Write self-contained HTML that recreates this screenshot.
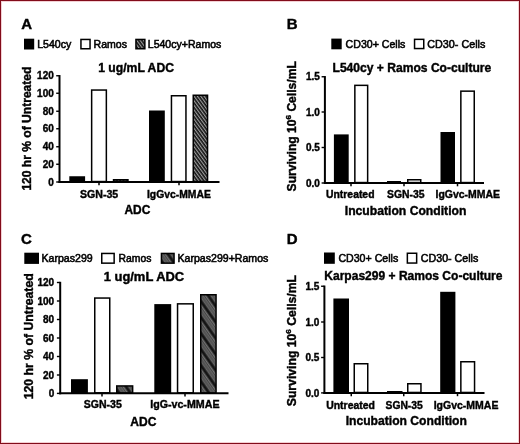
<!DOCTYPE html>
<html><head><meta charset="utf-8"><title>Figure</title>
<style>
html,body{margin:0;padding:0;background:#fff;}
body{width:520px;height:444px;overflow:hidden;position:relative;}
svg{position:absolute;left:0;top:0;display:block;}
svg text{font-family:"Liberation Sans",Arial,sans-serif;fill:#000;stroke:#000;stroke-width:0.4px;}
svg text.r{stroke-width:0.55px;}
svg g.soft{filter:blur(0.3px);}
.frame{position:absolute;left:0;top:0;width:518px;height:442px;border:1px solid #820c1a;box-shadow:inset 0 0 0 1px rgba(200,40,60,0.22);}
</style></head><body>
<svg width="520" height="444" viewBox="0 0 520 444">
<defs>
<pattern id="hA" width="2.7" height="2.7" patternUnits="userSpaceOnUse" patternTransform="rotate(-36)">
<rect width="2.7" height="2.7" fill="#121212"/><rect width="1.15" height="2.7" fill="#9c9c9c"/>
</pattern>
<pattern id="hC" width="9.2" height="9.2" patternUnits="userSpaceOnUse" patternTransform="rotate(-35)">
<rect width="9.2" height="9.2" fill="#404040"/><rect width="2.2" height="9.2" fill="#141414"/>
<rect x="3.1" width="0.9" height="9.2" fill="#787878"/><rect x="5.2" width="0.9" height="9.2" fill="#787878"/><rect x="7.3" width="0.9" height="9.2" fill="#787878"/>
</pattern>
</defs>
<rect width="520" height="444" fill="#fff"/>
<g class="soft">
<text x="21.30" y="29.10" font-size="15.00" font-weight="700">A</text>
<rect x="24.00" y="38.70" width="10.20" height="10.80" fill="#000"/>
<text x="37.20" y="47.80" font-size="10.60" class="r" textLength="34.10" lengthAdjust="spacingAndGlyphs">L540cy</text>
<rect x="80.95" y="39.45" width="9.10" height="9.30" fill="#fff" stroke="#000" stroke-width="1.5"/>
<text x="93.60" y="47.80" font-size="10.60" class="r" textLength="33.40" lengthAdjust="spacingAndGlyphs">Ramos</text>
<text x="147.80" y="47.80" font-size="10.60" class="r" textLength="73.50" lengthAdjust="spacingAndGlyphs">L540cy+Ramos</text>
<text x="98.20" y="72.40" font-size="12.00" font-weight="700" textLength="75.80" lengthAdjust="spacingAndGlyphs">1 ug/mL ADC</text>
<rect x="69.30" y="176.25" width="15.80" height="6.05" fill="#000"/>
<rect x="91.65" y="90.05" width="14.70" height="91.50" fill="#fff" stroke="#000" stroke-width="1.5"/>
<rect x="149.00" y="110.50" width="15.80" height="71.80" fill="#000"/>
<rect x="171.45" y="95.75" width="14.50" height="85.80" fill="#fff" stroke="#000" stroke-width="1.5"/>
<line x1="59.50" y1="75.05" x2="59.50" y2="183.00" stroke="#000" stroke-width="2.00"/>
<line x1="58.50" y1="182.00" x2="219.50" y2="182.00" stroke="#000" stroke-width="2.00"/>
<line x1="56.20" y1="75.75" x2="59.50" y2="75.75" stroke="#000" stroke-width="1.40"/>
<text x="53.80" y="79.35" font-size="10.00" font-weight="700" text-anchor="end">120</text>
<line x1="56.20" y1="93.25" x2="59.50" y2="93.25" stroke="#000" stroke-width="1.40"/>
<text x="53.80" y="96.85" font-size="10.00" font-weight="700" text-anchor="end">100</text>
<line x1="56.20" y1="111.25" x2="59.50" y2="111.25" stroke="#000" stroke-width="1.40"/>
<text x="53.80" y="114.85" font-size="10.00" font-weight="700" text-anchor="end">80</text>
<line x1="56.20" y1="128.75" x2="59.50" y2="128.75" stroke="#000" stroke-width="1.40"/>
<text x="53.80" y="132.35" font-size="10.00" font-weight="700" text-anchor="end">60</text>
<line x1="56.20" y1="146.75" x2="59.50" y2="146.75" stroke="#000" stroke-width="1.40"/>
<text x="53.80" y="150.35" font-size="10.00" font-weight="700" text-anchor="end">40</text>
<line x1="56.20" y1="164.25" x2="59.50" y2="164.25" stroke="#000" stroke-width="1.40"/>
<text x="53.80" y="167.85" font-size="10.00" font-weight="700" text-anchor="end">20</text>
<line x1="56.20" y1="182.00" x2="59.50" y2="182.00" stroke="#000" stroke-width="1.40"/>
<text x="53.80" y="185.60" font-size="10.00" font-weight="700" text-anchor="end">0</text>
<line x1="99.00" y1="182.00" x2="99.00" y2="185.30" stroke="#000" stroke-width="1.50"/>
<line x1="179.00" y1="182.00" x2="179.00" y2="185.30" stroke="#000" stroke-width="1.50"/>
<text x="80.00" y="198.40" font-size="10.50" font-weight="700" textLength="38.20" lengthAdjust="spacingAndGlyphs">SGN-35</text>
<text x="147.00" y="198.40" font-size="10.50" font-weight="700" textLength="63.80" lengthAdjust="spacingAndGlyphs">IgGvc-MMAE</text>
<text x="124.40" y="214.00" font-size="12.00" font-weight="700" textLength="25.90" lengthAdjust="spacingAndGlyphs">ADC</text>
<text transform="translate(30.70 190.60) rotate(-90)" font-size="12.00" font-weight="700" textLength="124.00" lengthAdjust="spacingAndGlyphs">120 hr % of Untreated</text>
<text x="286.70" y="29.20" font-size="15.00" font-weight="700">B</text>
<rect x="331.30" y="38.60" width="10.40" height="10.70" fill="#000"/>
<text x="345.60" y="47.80" font-size="10.60" class="r" textLength="59.70" lengthAdjust="spacingAndGlyphs">CD30+ Cells</text>
<rect x="414.55" y="39.35" width="9.20" height="9.20" fill="#fff" stroke="#000" stroke-width="1.5"/>
<text x="427.30" y="47.80" font-size="10.60" class="r" textLength="58.00" lengthAdjust="spacingAndGlyphs">CD30- Cells</text>
<text x="332.50" y="72.00" font-size="12.00" font-weight="700" textLength="158.80" lengthAdjust="spacingAndGlyphs">L540cy + Ramos Co-culture</text>
<rect x="333.90" y="134.40" width="14.80" height="48.90" fill="#000"/>
<rect x="354.85" y="85.35" width="12.80" height="97.20" fill="#fff" stroke="#000" stroke-width="1.5"/>
<rect x="387.00" y="181.00" width="14.00" height="2.30" fill="#000"/>
<rect x="407.75" y="179.75" width="13.00" height="2.80" fill="#fff" stroke="#000" stroke-width="1.5"/>
<rect x="440.50" y="132.00" width="14.50" height="51.30" fill="#000"/>
<rect x="460.85" y="91.15" width="13.40" height="91.40" fill="#fff" stroke="#000" stroke-width="1.5"/>
<line x1="324.90" y1="76.05" x2="324.90" y2="184.00" stroke="#000" stroke-width="2.00"/>
<line x1="323.90" y1="183.00" x2="484.00" y2="183.00" stroke="#000" stroke-width="2.00"/>
<line x1="321.60" y1="76.75" x2="324.90" y2="76.75" stroke="#000" stroke-width="1.40"/>
<text x="319.80" y="80.35" font-size="10.00" font-weight="700" text-anchor="end">1.5</text>
<line x1="321.60" y1="112.00" x2="324.90" y2="112.00" stroke="#000" stroke-width="1.40"/>
<text x="319.80" y="115.60" font-size="10.00" font-weight="700" text-anchor="end">1.0</text>
<line x1="321.60" y1="147.50" x2="324.90" y2="147.50" stroke="#000" stroke-width="1.40"/>
<text x="319.80" y="151.10" font-size="10.00" font-weight="700" text-anchor="end">0.5</text>
<line x1="321.60" y1="183.00" x2="324.90" y2="183.00" stroke="#000" stroke-width="1.40"/>
<text x="319.80" y="186.60" font-size="10.00" font-weight="700" text-anchor="end">0.0</text>
<line x1="351.00" y1="183.00" x2="351.00" y2="186.30" stroke="#000" stroke-width="1.50"/>
<line x1="404.00" y1="183.00" x2="404.00" y2="186.30" stroke="#000" stroke-width="1.50"/>
<line x1="457.50" y1="183.00" x2="457.50" y2="186.30" stroke="#000" stroke-width="1.50"/>
<text x="326.00" y="198.20" font-size="10.50" font-weight="700" textLength="48.50" lengthAdjust="spacingAndGlyphs">Untreated</text>
<text x="387.00" y="198.20" font-size="10.50" font-weight="700" textLength="37.50" lengthAdjust="spacingAndGlyphs">SGN-35</text>
<text x="435.50" y="198.20" font-size="10.50" font-weight="700" textLength="64.50" lengthAdjust="spacingAndGlyphs">IgGvc-MMAE</text>
<text x="344.80" y="214.50" font-size="12.00" font-weight="700" textLength="121.60" lengthAdjust="spacingAndGlyphs">Incubation Condition</text>
<text transform="translate(295.80 191.40) rotate(-90)" font-size="12.00" font-weight="700" textLength="130.20" lengthAdjust="spacingAndGlyphs">Surviving 10<tspan font-size="8" dy="-4.6">6</tspan><tspan dy="4.6"> Cells/mL</tspan></text>
<text x="21.00" y="243.90" font-size="15.00" font-weight="700">C</text>
<rect x="24.30" y="252.70" width="14.70" height="11.20" fill="#000"/>
<text x="41.50" y="262.00" font-size="10.60" class="r" textLength="51.20" lengthAdjust="spacingAndGlyphs">Karpas299</text>
<rect x="101.75" y="253.45" width="12.40" height="9.70" fill="#fff" stroke="#000" stroke-width="1.5"/>
<text x="118.60" y="262.00" font-size="10.60" class="r" textLength="32.80" lengthAdjust="spacingAndGlyphs">Ramos</text>
<text x="177.50" y="262.00" font-size="10.60" class="r" textLength="90.80" lengthAdjust="spacingAndGlyphs">Karpas299+Ramos</text>
<text x="103.70" y="281.40" font-size="12.00" font-weight="700" textLength="80.50" lengthAdjust="spacingAndGlyphs">1 ug/mL ADC</text>
<rect x="71.00" y="379.20" width="16.90" height="14.40" fill="#000"/>
<rect x="94.75" y="298.05" width="15.00" height="94.80" fill="#fff" stroke="#000" stroke-width="1.5"/>
<rect x="154.30" y="304.10" width="16.90" height="89.50" fill="#000"/>
<rect x="177.55" y="303.85" width="15.70" height="89.00" fill="#fff" stroke="#000" stroke-width="1.5"/>
<line x1="60.20" y1="281.80" x2="60.20" y2="394.30" stroke="#000" stroke-width="2.00"/>
<line x1="59.20" y1="393.30" x2="228.50" y2="393.30" stroke="#000" stroke-width="2.00"/>
<line x1="56.90" y1="282.50" x2="60.20" y2="282.50" stroke="#000" stroke-width="1.40"/>
<text x="54.20" y="286.10" font-size="10.00" font-weight="700" text-anchor="end">120</text>
<line x1="56.90" y1="301.00" x2="60.20" y2="301.00" stroke="#000" stroke-width="1.40"/>
<text x="54.20" y="304.60" font-size="10.00" font-weight="700" text-anchor="end">100</text>
<line x1="56.90" y1="319.50" x2="60.20" y2="319.50" stroke="#000" stroke-width="1.40"/>
<text x="54.20" y="323.10" font-size="10.00" font-weight="700" text-anchor="end">80</text>
<line x1="56.90" y1="338.00" x2="60.20" y2="338.00" stroke="#000" stroke-width="1.40"/>
<text x="54.20" y="341.60" font-size="10.00" font-weight="700" text-anchor="end">60</text>
<line x1="56.90" y1="356.50" x2="60.20" y2="356.50" stroke="#000" stroke-width="1.40"/>
<text x="54.20" y="360.10" font-size="10.00" font-weight="700" text-anchor="end">40</text>
<line x1="56.90" y1="375.00" x2="60.20" y2="375.00" stroke="#000" stroke-width="1.40"/>
<text x="54.20" y="378.60" font-size="10.00" font-weight="700" text-anchor="end">20</text>
<line x1="56.90" y1="393.40" x2="60.20" y2="393.40" stroke="#000" stroke-width="1.40"/>
<text x="54.20" y="397.00" font-size="10.00" font-weight="700" text-anchor="end">0</text>
<line x1="102.00" y1="393.30" x2="102.00" y2="396.60" stroke="#000" stroke-width="1.50"/>
<line x1="185.00" y1="393.30" x2="185.00" y2="396.60" stroke="#000" stroke-width="1.50"/>
<text x="83.75" y="408.10" font-size="10.50" font-weight="700" textLength="38.00" lengthAdjust="spacingAndGlyphs">SGN-35</text>
<text x="150.20" y="408.10" font-size="10.50" font-weight="700" textLength="69.30" lengthAdjust="spacingAndGlyphs">IgG-vc-MMAE</text>
<text x="130.30" y="425.60" font-size="12.00" font-weight="700" textLength="26.10" lengthAdjust="spacingAndGlyphs">ADC</text>
<text transform="translate(33.00 399.30) rotate(-90)" font-size="12.20" font-weight="700" textLength="126.00" lengthAdjust="spacingAndGlyphs">120 hr % of Untreated</text>
<text x="286.70" y="243.80" font-size="15.00" font-weight="700">D</text>
<rect x="324.00" y="252.50" width="10.80" height="11.30" fill="#000"/>
<text x="338.40" y="262.00" font-size="10.60" class="r" textLength="59.80" lengthAdjust="spacingAndGlyphs">CD30+ Cells</text>
<rect x="407.35" y="253.25" width="9.30" height="9.80" fill="#fff" stroke="#000" stroke-width="1.5"/>
<text x="420.80" y="262.00" font-size="10.60" class="r" textLength="57.50" lengthAdjust="spacingAndGlyphs">CD30- Cells</text>
<text x="324.30" y="279.50" font-size="12.00" font-weight="700" textLength="178.20" lengthAdjust="spacingAndGlyphs">Karpas299 + Ramos Co-culture</text>
<rect x="333.40" y="298.50" width="15.60" height="94.70" fill="#000"/>
<rect x="354.25" y="363.75" width="13.50" height="28.70" fill="#fff" stroke="#000" stroke-width="1.5"/>
<rect x="387.00" y="391.00" width="15.50" height="2.20" fill="#000"/>
<rect x="407.75" y="383.75" width="13.20" height="8.70" fill="#fff" stroke="#000" stroke-width="1.5"/>
<rect x="440.20" y="291.80" width="15.20" height="101.40" fill="#000"/>
<rect x="460.85" y="361.75" width="13.70" height="30.70" fill="#fff" stroke="#000" stroke-width="1.5"/>
<line x1="324.40" y1="285.55" x2="324.40" y2="393.90" stroke="#000" stroke-width="2.00"/>
<line x1="323.40" y1="392.90" x2="484.50" y2="392.90" stroke="#000" stroke-width="2.00"/>
<line x1="321.10" y1="286.25" x2="324.40" y2="286.25" stroke="#000" stroke-width="1.40"/>
<text x="319.30" y="289.85" font-size="10.00" font-weight="700" text-anchor="end">1.5</text>
<line x1="321.10" y1="322.00" x2="324.40" y2="322.00" stroke="#000" stroke-width="1.40"/>
<text x="319.30" y="325.60" font-size="10.00" font-weight="700" text-anchor="end">1.0</text>
<line x1="321.10" y1="357.50" x2="324.40" y2="357.50" stroke="#000" stroke-width="1.40"/>
<text x="319.30" y="361.10" font-size="10.00" font-weight="700" text-anchor="end">0.5</text>
<line x1="321.10" y1="392.90" x2="324.40" y2="392.90" stroke="#000" stroke-width="1.40"/>
<text x="319.30" y="396.50" font-size="10.00" font-weight="700" text-anchor="end">0.0</text>
<line x1="351.25" y1="392.90" x2="351.25" y2="396.20" stroke="#000" stroke-width="1.50"/>
<line x1="403.75" y1="392.90" x2="403.75" y2="396.20" stroke="#000" stroke-width="1.50"/>
<line x1="457.50" y1="392.90" x2="457.50" y2="396.20" stroke="#000" stroke-width="1.50"/>
<text x="326.20" y="408.50" font-size="10.50" font-weight="700" textLength="48.80" lengthAdjust="spacingAndGlyphs">Untreated</text>
<text x="385.50" y="408.50" font-size="10.50" font-weight="700" textLength="37.30" lengthAdjust="spacingAndGlyphs">SGN-35</text>
<text x="433.70" y="408.50" font-size="10.50" font-weight="700" textLength="64.70" lengthAdjust="spacingAndGlyphs">IgGvc-MMAE</text>
<text x="345.70" y="425.40" font-size="12.00" font-weight="700" textLength="121.20" lengthAdjust="spacingAndGlyphs">Incubation Condition</text>
<text transform="translate(295.70 406.20) rotate(-90)" font-size="12.00" font-weight="700" textLength="131.20" lengthAdjust="spacingAndGlyphs">Surviving 10<tspan font-size="8" dy="-4.6">6</tspan><tspan dy="4.6"> Cells/mL</tspan></text>
</g>
<g>
<rect x="135.95" y="39.45" width="8.90" height="9.30" fill="url(#hA)" stroke="#000" stroke-width="1.5"/>
<rect x="113.55" y="179.75" width="14.40" height="1.80" fill="url(#hA)" stroke="#000" stroke-width="1.5"/>
<rect x="193.25" y="95.25" width="14.30" height="86.30" fill="url(#hA)" stroke="#000" stroke-width="1.5"/>
<rect x="161.45" y="253.45" width="12.60" height="9.70" fill="url(#hC)" stroke="#000" stroke-width="1.5"/>
<rect x="116.75" y="385.95" width="15.90" height="6.90" fill="url(#hC)" stroke="#000" stroke-width="1.5"/>
<rect x="200.75" y="294.75" width="15.30" height="98.10" fill="url(#hC)" stroke="#000" stroke-width="1.5"/>
</g>
</svg>
<div class="frame"></div>
</body></html>
